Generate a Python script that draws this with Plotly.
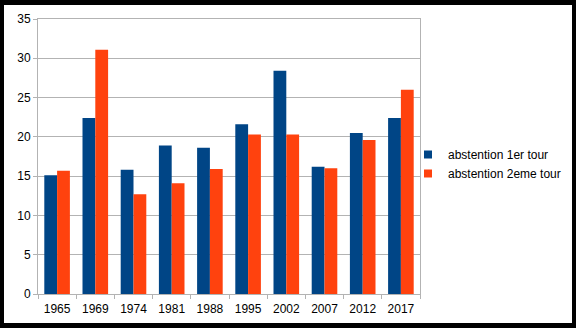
import plotly.graph_objects as go

years = ["1965", "1969", "1974", "1981", "1988", "1995", "2002", "2007", "2012", "2017"]
tour1 = [15.1, 22.4, 15.8, 18.9, 18.6, 21.6, 28.4, 16.2, 20.5, 22.4]
tour2 = [15.7, 31.1, 12.7, 14.1, 15.9, 20.3, 20.3, 16.0, 19.6, 26.0]
names = ["abstention 1er tour", "abstention 2eme tour"]
colors = ["#004586", "#ff420e"]
y_ticks = [0, 5, 10, 15, 20, 25, 30, 35]

W, H = 576, 328
L, R, T, B = 38, 156, 19, 34
pw, ph = W - L - R, H - T - B

fig = go.Figure()
for vals, name, col in zip([tour1, tour2], names, colors):
    fig.add_trace(go.Bar(x=years, y=vals, name=name, marker=dict(color=col, line=dict(width=0)),
                         showlegend=False, legendgroup=name))
    fig.add_trace(go.Scatter(x=[None], y=[None], mode="markers", name=name, legendgroup=name,
                             marker=dict(symbol="square", size=8, color=col)))

def px_x(x):
    return (x - L) / pw

def px_y(y):
    return (H - B - y) / ph

fig.add_shape(type="rect", xref="paper", yref="paper", layer="below",
              x0=px_x(4), x1=px_x(572), y0=px_y(323), y1=px_y(5),
              fillcolor="white", line=dict(width=0))

fig.update_layout(
    width=W, height=H, margin=dict(l=L, r=R, t=T, b=B, autoexpand=False),
    paper_bgcolor="black", plot_bgcolor="white",
    barmode="group", bargap=0.33, bargroupgap=0,
    font=dict(family="Liberation Sans", size=12, color="black"),
    legend=dict(x=px_x(408), y=px_y(164), xanchor="left", yanchor="middle",
                bgcolor="rgba(0,0,0,0)", font=dict(size=12), itemwidth=30,
                tracegroupgap=0),
    xaxis=dict(type="category", showline=True, linecolor="#b3b3b3", linewidth=1, mirror=True,
               ticks="outside", tickson="boundaries", ticklen=4, tickcolor="#b3b3b3",
               showgrid=False, tickfont=dict(size=12), ticklabelstandoff=4),
    yaxis=dict(range=[0, 35], tickvals=y_ticks, showline=True, linecolor="#b3b3b3", linewidth=1,
               mirror=True, ticks="outside", ticklen=4, tickcolor="#b3b3b3",
               gridcolor="#b3b3b3", gridwidth=1, zeroline=False, tickfont=dict(size=12)),
)

fig.write_html("out.html")
